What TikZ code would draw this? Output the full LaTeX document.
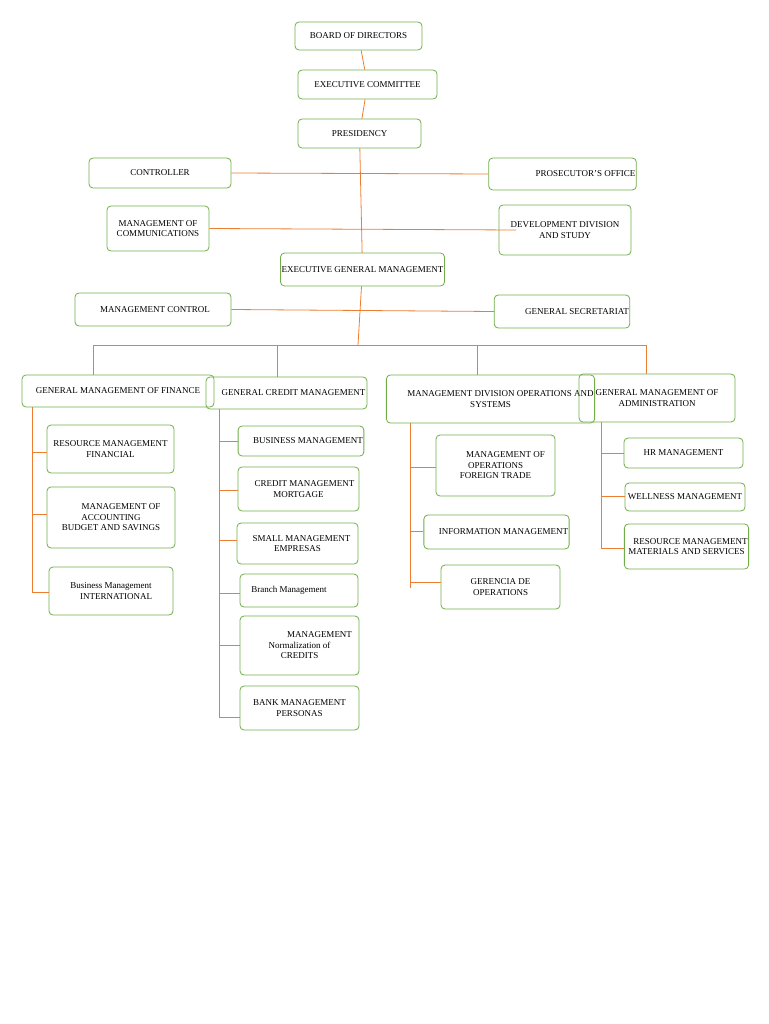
\documentclass[tikz,border=0pt]{standalone}
\usepackage{fontspec}
\setmainfont{Liberation Serif}
\usetikzlibrary{positioning}
\definecolor{boxgreen}{HTML}{70AD47}
\definecolor{lineorange}{HTML}{ED7D31}
\tikzstyle{unit} = [x=1pt,y=-1pt]
% box given by left, top, right, bottom
\newcommand{\orgbox}[6]{%
  \node[box, minimum width={(#4-#2)*1pt}, minimum height={(#5-#3)*1pt}] (#1) at ({(#2+#4)/2},{(#3+#5)/2}) {#6};}
\begin{document}
\begin{tikzpicture}[x=1pt,y=-1pt]
                    \tikzstyle{every node}=[font=\fontsize{9}{10.5}\selectfont]
                    \tikzstyle{box} = [draw=boxgreen, thick, rounded corners=4pt, align=center, inner sep=1pt]
                    \tikzstyle{link} = [draw=lineorange, thick]
                    \useasboundingbox (0,0) rectangle (768,1024);

                    % top of the chart
                    \orgbox{board}{295}{22}{422}{50}{BOARD OF DIRECTORS}
                    \orgbox{excom}{298}{70}{437}{99}{EXECUTIVE COMMITTEE}
                    \orgbox{pres}{298}{119}{421}{148}{PRESIDENCY}
                    \orgbox{ctrl}{89}{158}{231}{188}{CONTROLLER}
                    \orgbox{prosec}{497}{158}{628}{190}{\hspace*{46pt}PROSECUTOR'S OFFICE}
                    \orgbox{comm}{107}{206}{209}{251}{MANAGEMENT OF\\COMMUNICATIONS}
                    \orgbox{devdiv}{499}{205}{631}{255}{DEVELOPMENT DIVISION\\AND STUDY}
                    \orgbox{egm}{285}{253}{440}{286}{EXECUTIVE GENERAL MANAGEMENT}
                    \orgbox{mctrl}{75}{293}{231}{326}{\hspace*{4pt}MANAGEMENT CONTROL}
                    \orgbox{gensec}{498}{295}{626}{328}{\hspace*{30pt}GENERAL SECRETARIAT}

                    % general managements
                    \orgbox{gmf}{22}{375}{214}{407}{GENERAL MANAGEMENT OF FINANCE}
                    \orgbox{gcm}{206}{377}{367}{409}{\hspace*{14pt}GENERAL CREDIT MANAGEMENT}
                    \orgbox{mdos}{392}{375}{589}{423}{\hspace*{20pt}MANAGEMENT DIVISION OPERATIONS AND\\SYSTEMS}
                    \orgbox{gma}{579}{374}{735}{422}{GENERAL MANAGEMENT OF\\ADMINISTRATION}

                    % finance
                    \orgbox{rmf}{47}{425}{174}{473}{RESOURCE MANAGEMENT\\FINANCIAL}
                    \orgbox{moa}{47}{487}{175}{548}{\hspace*{20pt}MANAGEMENT OF\\ACCOUNTING\\BUDGET AND SAVINGS}
                    \orgbox{bmi}{49}{567}{173}{615}{Business Management\\\hspace*{10pt}INTERNATIONAL}

                    % credit
                    \orgbox{bm}{240}{426}{362}{456}{\hspace*{14pt}BUSINESS MANAGEMENT}
                    \orgbox{cmm}{238}{467}{359}{511}{\hspace*{12pt}CREDIT MANAGEMENT\\MORTGAGE}
                    \orgbox{sme}{237}{523}{358}{564}{\hspace*{8pt}SMALL MANAGEMENT\\EMPRESAS}
                    \orgbox{branch}{240}{574}{358}{607}{Branch Management\hspace*{20pt}}
                    \orgbox{mnc}{240}{616}{359}{675}{\hspace*{40pt}MANAGEMENT\\Normalization of\hspace*{20pt}\\CREDITS}
                    \orgbox{bmp}{240}{686}{359}{730}{BANK MANAGEMENT\\PERSONAS}

                    % operations
                    \orgbox{moft}{436}{435}{555}{496}{\hspace*{20pt}MANAGEMENT OF\\OPERATIONS\\FOREIGN TRADE}
                    \orgbox{im}{437}{515}{556}{549}{\hspace*{14pt}INFORMATION MANAGEMENT}
                    \orgbox{gdo}{441}{565}{560}{609}{GERENCIA DE\\OPERATIONS}

                    % administration
                    \orgbox{hr}{624}{438}{743}{468}{HR MANAGEMENT}
                    \orgbox{wm}{625}{483}{745}{511}{WELLNESS MANAGEMENT}
                    \orgbox{rmms}{627}{524}{746}{569}{\hspace*{8pt}RESOURCE MANAGEMENT\\MATERIALS AND SERVICES}

                    % spine
                    \coordinate (bus) at (358,345);
                    \draw[link] (board) -- (excom);
                    \draw[link] (excom) -- (pres);
                    \draw[link] (pres) -- (egm);
                    \draw[link] (egm) -- (bus);
                    \draw[link] (ctrl.east) -- (prosec.west);
                    \draw[link] (comm.east) -- (devdiv.west -| 516,0);
                    \draw[link] (mctrl.east) -- (gensec.west);
                    \draw[link] (93,345) -- (646,345);
                    \foreach \g/\x in {gmf/93, gcm/277, mdos/477, gma/646}
                        \draw[link] (\x,345) -- (\g.north -| \x,0);

                    % branches
                    \draw[link] (gmf.south -| 32,0) -- (32,592);
                    \foreach \c/\y in {rmf/452, moa/514, bmi/592}
                        \draw[link] (32,\y) -- (\c.west |- 0,\y);
                    \draw[link] (gcm.south -| 219,0) -- (219,717);
                    \foreach \c/\y in {bm/441, cmm/490, sme/540, branch/593, mnc/645, bmp/717}
                        \draw[link] (219,\y) -- (\c.west |- 0,\y);
                    \draw[link] (mdos.south -| 410,0) -- (410,588);
                    \foreach \c/\y in {moft/467, im/531, gdo/582}
                        \draw[link] (410,\y) -- (\c.west |- 0,\y);
                    \draw[link] (gma.south -| 601,0) -- (601,548);
                    \foreach \c/\y in {hr/453, wm/496, rmms/548}
                        \draw[link] (601,\y) -- (\c.west |- 0,\y);
\end{tikzpicture}
\end{document}
